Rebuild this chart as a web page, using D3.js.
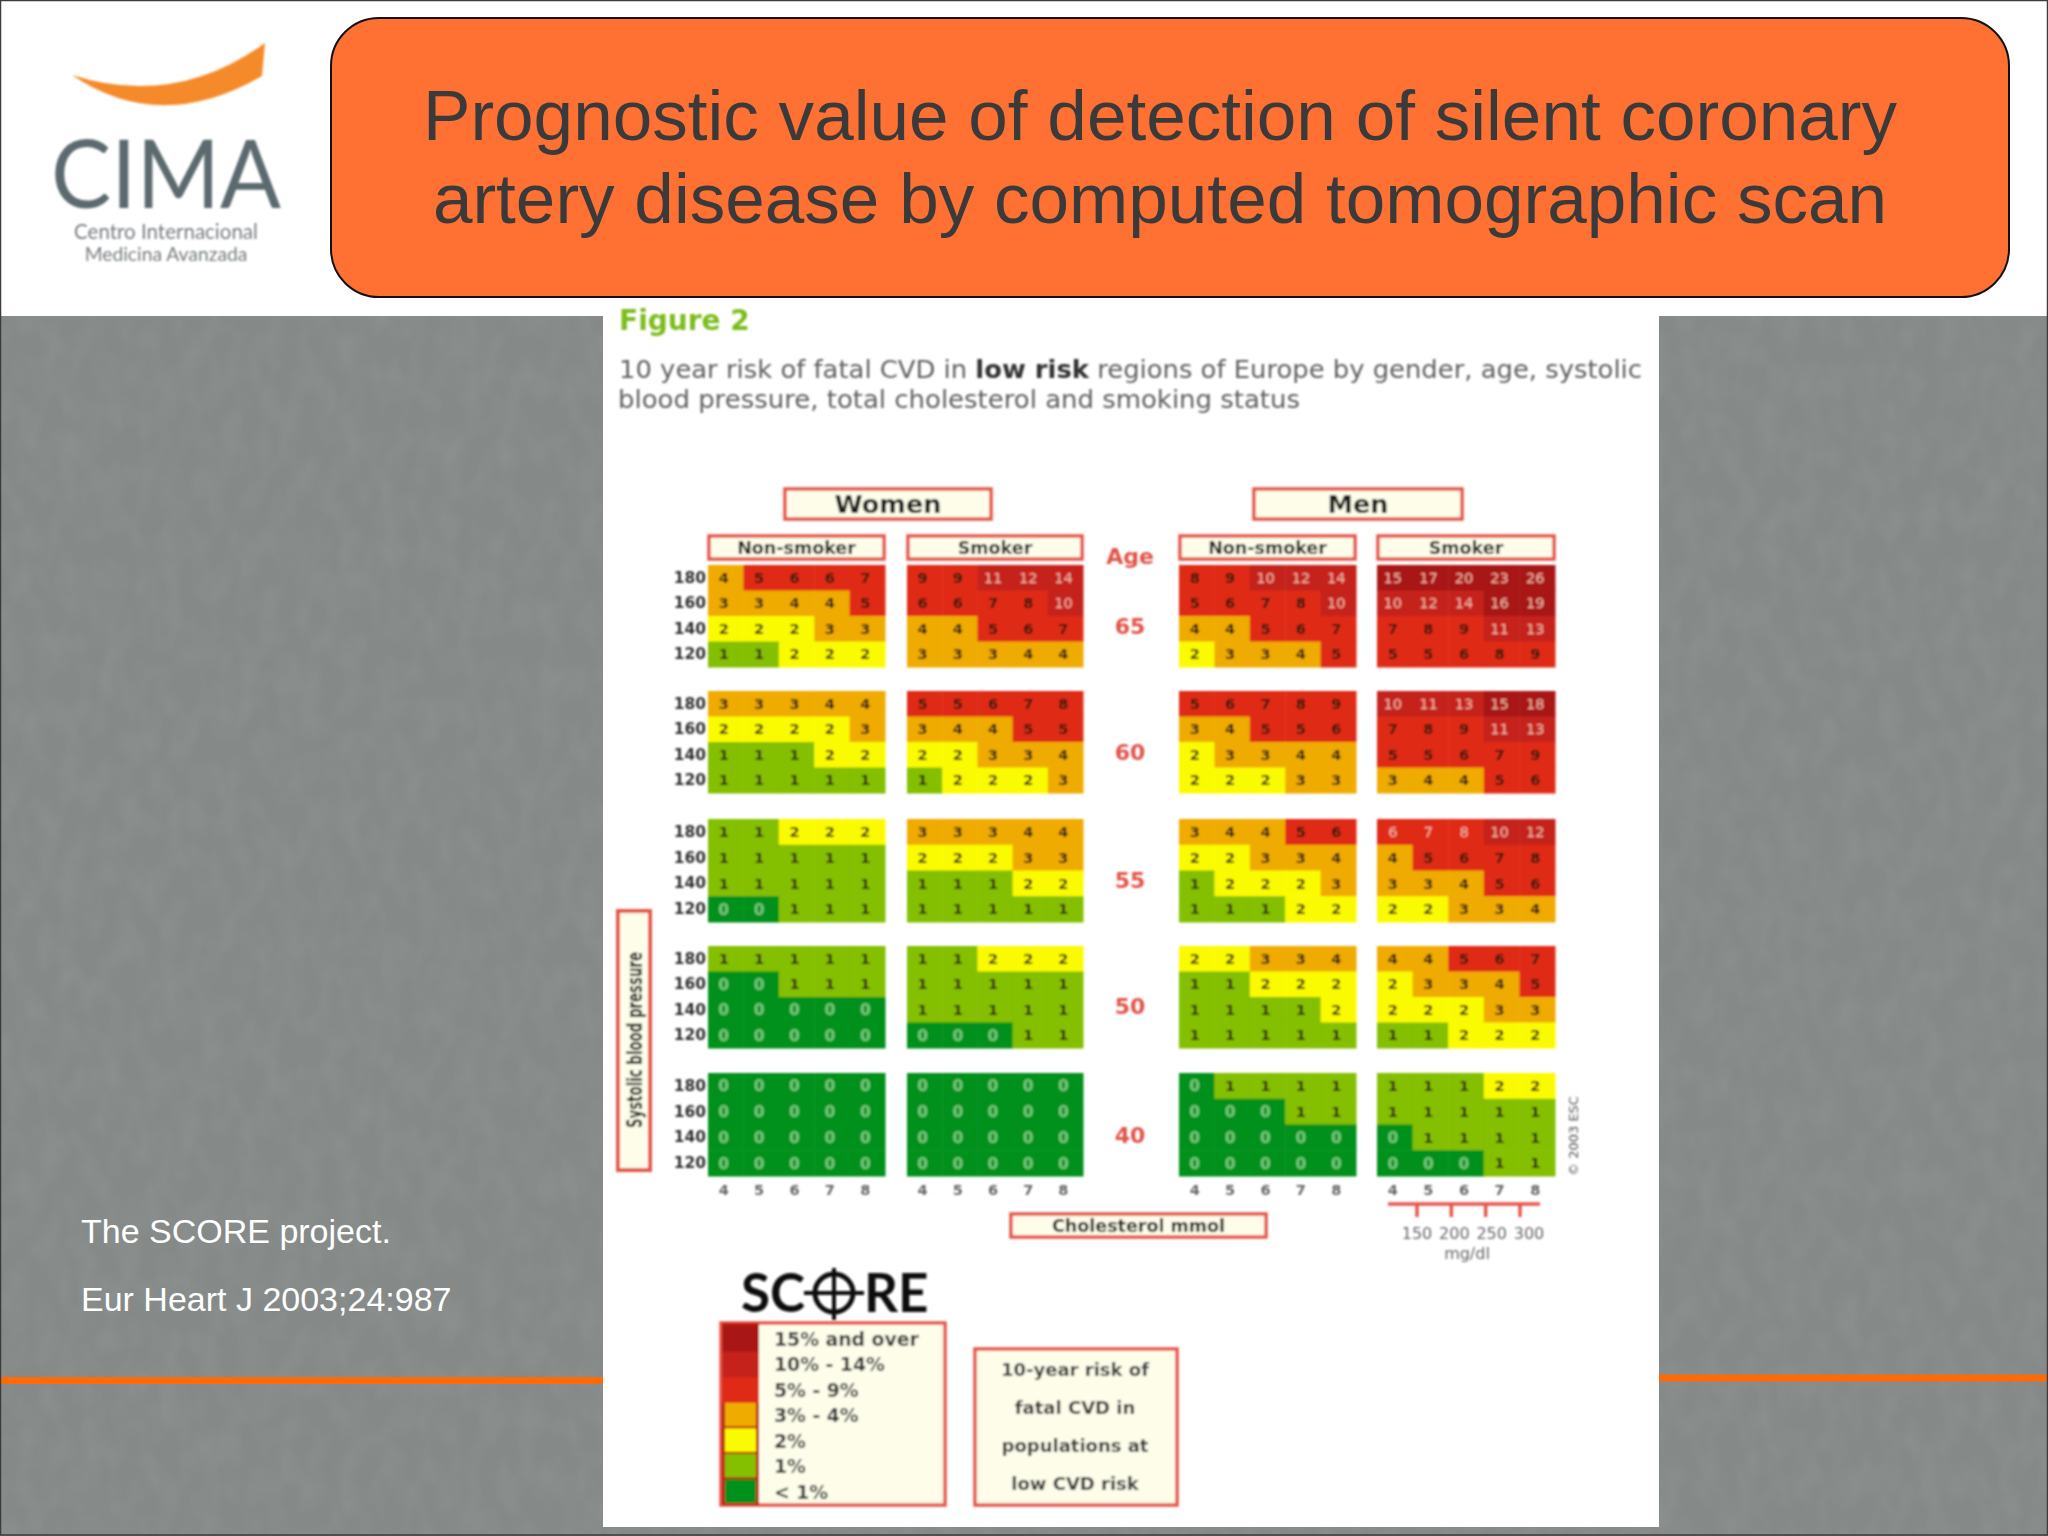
<!DOCTYPE html>
<html><head><meta charset="utf-8">
<script src="https://cdn.jsdelivr.net/npm/d3@7/dist/d3.min.js"></script>
<style>html,body{margin:0;padding:0;background:#fff}svg{display:block}</style>
</head><body><svg id="c" width="2048" height="1536" viewBox="0 0 2048 1536"></svg>
<script>
const ages = [65, 60, 55, 50, 40];
const systolic = [180, 160, 140, 120];
const cholesterol = [4, 5, 6, 7, 8];
const mgdlTicks = [150, 200, 250, 300];
const legendLabels = ["15% and over", "10% - 14%", "5% - 9%", "3% - 4%", "2%", "1%", "< 1%"];
const legendValues = [15, 10, 5, 3, 2, 1, 0];
const riskThresholds = [1, 2, 3, 5, 10, 15];
const riskColours = ["#00901f", "#84bf00", "#fbfb00", "#efab00", "#df2a15", "#c5201b", "#a91513"];
const noteLines = ["10-year risk of", "fatal CVD in", "populations at", "low CVD risk"];

const womenNonSmoker = [
 [[4,5,6,6,7],[3,3,4,4,5],[2,2,2,3,3],[1,1,2,2,2]],
 [[3,3,3,4,4],[2,2,2,2,3],[1,1,1,2,2],[1,1,1,1,1]],
 [[1,1,2,2,2],[1,1,1,1,1],[1,1,1,1,1],[0,0,1,1,1]],
 [[1,1,1,1,1],[0,0,1,1,1],[0,0,0,0,0],[0,0,0,0,0]],
 [[0,0,0,0,0],[0,0,0,0,0],[0,0,0,0,0],[0,0,0,0,0]]];
const womenSmoker = [
 [[9,9,11,12,14],[6,6,7,8,10],[4,4,5,6,7],[3,3,3,4,4]],
 [[5,5,6,7,8],[3,4,4,5,5],[2,2,3,3,4],[1,2,2,2,3]],
 [[3,3,3,4,4],[2,2,2,3,3],[1,1,1,2,2],[1,1,1,1,1]],
 [[1,1,2,2,2],[1,1,1,1,1],[1,1,1,1,1],[0,0,0,1,1]],
 [[0,0,0,0,0],[0,0,0,0,0],[0,0,0,0,0],[0,0,0,0,0]]];
const menNonSmoker = [
 [[8,9,10,12,14],[5,6,7,8,10],[4,4,5,6,7],[2,3,3,4,5]],
 [[5,6,7,8,9],[3,4,5,5,6],[2,3,3,4,4],[2,2,2,3,3]],
 [[3,4,4,5,6],[2,2,3,3,4],[1,2,2,2,3],[1,1,1,2,2]],
 [[2,2,3,3,4],[1,1,2,2,2],[1,1,1,1,2],[1,1,1,1,1]],
 [[0,1,1,1,1],[0,0,0,1,1],[0,0,0,0,0],[0,0,0,0,0]]];
const menSmoker = [
 [[15,17,20,23,26],[10,12,14,16,19],[7,8,9,11,13],[5,5,6,8,9]],
 [[10,11,13,15,18],[7,8,9,11,13],[5,5,6,7,9],[3,4,4,5,6]],
 [[6,7,8,10,12],[4,5,6,7,8],[3,3,4,5,6],[2,2,3,3,4]],
 [[4,4,5,6,7],[2,3,3,4,5],[2,2,2,3,3],[1,1,2,2,2]],
 [[1,1,1,2,2],[1,1,1,1,1],[0,1,1,1,1],[0,0,0,1,1]]];

const panels = [
 {name:"Non-smoker", data:womenNonSmoker, x0:708, x1:885},
 {name:"Smoker",     data:womenSmoker,    x0:907, x1:1083},
 {name:"Non-smoker", data:menNonSmoker,   x0:1179,x1:1356},
 {name:"Smoker",     data:menSmoker,      x0:1377,x1:1555}];
const ageBands = [[565,667],[691,793],[819,922],[946,1048],[1073,1176]];
const ageLabelY = [626,752,880,1006,1135];

const RED="#e5564c", CREAM="#fdfdea", DJ="'DejaVu Sans',sans-serif", LS="'Liberation Sans',Arial,sans-serif";
const svg = d3.select("#c");
const defs = svg.append("defs");
const blur=(id,s)=>defs.append("filter").attr("id",id).attr("filterUnits","userSpaceOnUse")
  .attr("x",0).attr("y",0).attr("width",2048).attr("height",1536)
  .append("feGaussianBlur").attr("stdDeviation",s);
blur("soft",1.15); blur("softer",0.9);
const tex=defs.append("filter").attr("id","mottle").attr("filterUnits","userSpaceOnUse")
  .attr("x",0).attr("y",316).attr("width",2048).attr("height",1220);
tex.append("feTurbulence").attr("type","fractalNoise").attr("baseFrequency","0.05 0.03").attr("numOctaves",2).attr("seed",7);
tex.append("feColorMatrix").attr("values","0 0 0 0 0.50  0 0 0 0 0.56  0 0 0 0 0.56  1.2 0 0 0 -0.42");

// slide background
svg.append("rect").attr("width",2048).attr("height",1536).attr("fill","#ffffff");
svg.append("rect").attr("y",316).attr("width",2048).attr("height",1220).attr("fill","#858988");
svg.append("rect").attr("y",316).attr("width",2048).attr("height",1220).attr("fill","#8b8f90").attr("filter","url(#mottle)").attr("opacity",.18);
svg.append("rect").attr("x",0).attr("y",1377).attr("width",603).attr("height",7).attr("fill","#ff6a08");
svg.append("rect").attr("x",1659).attr("y",1374.5).attr("width",389).attr("height",7).attr("fill","#ff6a08");
svg.append("rect").attr("x",.5).attr("y",.5).attr("width",2047).attr("height",1534.5).attr("fill","none").attr("stroke","#3c3c3c").attr("stroke-width",1.5);
svg.append("rect").attr("x",603).attr("y",316).attr("width",1056).attr("height",1211).attr("fill","#fff");

// logo
const logo=svg.append("g").attr("filter","url(#softer)");
const sw=d3.path(); sw.moveTo(72,75); sw.quadraticCurveTo(175,108,265,43); sw.lineTo(262,76); sw.quadraticCurveTo(160,135,72,75); sw.closePath();
logo.append("path").attr("d",sw.toString()).attr("fill","#f58a2a");
logo.append("text").attr("x",166).attr("y",208).attr("text-anchor","middle").attr("font-family","Lato,sans-serif").attr("font-weight",400)
  .attr("font-size",95).attr("textLength",230).attr("lengthAdjust","spacingAndGlyphs").attr("fill","#5c6a70").text("CIMA");
[["Centro Internacional",239,20.5],["Medicina Avanzada",261,19.3]].forEach(([t,y,fs])=>logo.append("text").attr("x",166).attr("y",y)
  .attr("text-anchor","middle").attr("font-family","Lato,sans-serif").attr("font-size",fs).attr("fill","#777d80").text(t));

// title
svg.append("rect").attr("x",331).attr("y",18).attr("width",1678).attr("height",279).attr("rx",48).attr("ry",48)
  .attr("fill","#ff7033").attr("stroke","#111").attr("stroke-width",2);
[["Prognostic value of detection of silent coronary",140],["artery disease by computed tomographic scan",223]].forEach(([t,y])=>
  svg.append("text").attr("x",1160).attr("y",y).attr("text-anchor","middle").attr("font-family",LS).attr("font-size",71.1).attr("fill","#3a3a3a").text(t));

// left citation
[["The SCORE project.",1243],["Eur Heart J 2003;24:987",1311]].forEach(([t,y])=>
  svg.append("text").attr("x",81).attr("y",y).attr("font-family",LS).attr("font-size",34).attr("fill","#fff").text(t));

// figure
const fig=svg.append("g").attr("filter","url(#soft)");
fig.append("text").attr("x",619).attr("y",330).attr("font-family",DJ).attr("font-weight",700).attr("font-size",28).attr("fill","#7cbc1e").text("Figure 2");
const l1=fig.append("text").attr("x",619).attr("y",378).attr("font-family",DJ).attr("font-size",25).attr("fill","#606060")
  .attr("textLength",1023).attr("lengthAdjust","spacingAndGlyphs");
l1.append("tspan").text("10 year risk of fatal CVD in ");
l1.append("tspan").attr("font-weight",700).attr("fill","#333").text("low risk");
l1.append("tspan").text(" regions of Europe by gender, age, systolic");
fig.append("text").attr("x",618).attr("y",408).attr("font-family",DJ).attr("font-size",25).attr("fill","#606060")
  .attr("textLength",682).attr("lengthAdjust","spacingAndGlyphs").text("blood pressure, total cholesterol and smoking status");

function box(x,y,w,h,t,fs,bw){
  fig.append("rect").attr("x",x).attr("y",y).attr("width",w).attr("height",h).attr("fill",CREAM).attr("stroke",RED).attr("stroke-width",bw||3.5);
  if(t) fig.append("text").attr("x",x+w/2).attr("y",y+h/2).attr("dy","0.36em").attr("text-anchor","middle")
    .attr("font-family",DJ).attr("font-weight",700).attr("font-size",fs).attr("fill","#1c1c1c").text(t);
}
box(785,489,206,30,"Women",25.5);
box(1254,489,208,30,"Men",25.5);
panels.forEach(p=>box(p.x0+1,536,p.x1-p.x0-2,23,p.name,17.5));
box(1011,1214,255,23,"Cholesterol mmol",17.5);

// Age labels
const ageStyle=s=>s.attr("text-anchor","middle").attr("font-family",DJ).attr("font-weight",700).attr("fill","#e0524a");
fig.append("text").attr("x",1130).attr("y",556).attr("dy","0.36em").attr("font-size",22).call(ageStyle).text("Age");
ages.forEach((a,i)=>fig.append("text").attr("x",1130).attr("y",ageLabelY[i]).attr("dy","0.36em").attr("font-size",22).call(ageStyle).text(a));

// risk cells
const colour=d3.scaleThreshold().domain(riskThresholds).range(riskColours);
const isLight=d=>d.v>=10||(d.pi===3&&d.ai===2&&d.si===0);
const numColour=d=>d.v===0?"#74c97c":isLight(d)?"#f2b8a8":"#2c1a0c";
panels.forEach((p,pi)=>{
  const x=d3.scaleBand().domain(cholesterol).range([p.x0,p.x1]);
  ages.forEach((age,ai)=>{
    const y=d3.scaleBand().domain(systolic).range(ageBands[ai]);
    const g=fig.append("g");
    const cells=systolic.flatMap((s,si)=>cholesterol.map((c,ci)=>({s,c,si,ai,pi,v:p.data[ai][si][ci]})));
    g.selectAll("rect").data(cells).join("rect")
      .attr("x",d=>x(d.c)).attr("y",d=>y(d.s)).attr("width",x.bandwidth()+.5).attr("height",y.bandwidth()+.5)
      .attr("fill",d=>colour(d.v));
    g.selectAll("text").data(cells).join("text")
      .attr("x",d=>x(d.c)+x.bandwidth()/2-2).attr("y",d=>y(d.s)+y.bandwidth()/2).attr("dy","0.36em")
      .attr("text-anchor","middle").attr("font-family",DJ)
      .attr("font-weight",d=>isLight(d)?400:700).attr("font-size",d=>d.v===0?15.5:14.5)
      .attr("fill",numColour).text(d=>d.v);
    if(pi===0){
      const ax=d3.axisLeft(y).tickSize(0).tickPadding(2);
      const ag=fig.append("g").attr("transform",`translate(${p.x0},0)`).call(ax);
      ag.select(".domain").remove();
      ag.selectAll("text").attr("font-family",DJ).attr("font-weight",700).attr("font-size",15.5).attr("fill","#333");
    }
  });
  const bx=d3.axisBottom(x).tickSize(0).tickPadding(9);
  const bg=fig.append("g").attr("transform",`translate(-2,${1176})`).call(bx);
  bg.select(".domain").remove();
  bg.selectAll("text").attr("font-family",DJ).attr("font-weight",700).attr("font-size",14.5).attr("fill","#666");
});

// Systolic box
fig.append("rect").attr("x",618).attr("y",911).attr("width",32).attr("height",259).attr("fill",CREAM).attr("stroke",RED).attr("stroke-width",4);
fig.append("text").attr("transform","translate(634,1040) rotate(-90)").attr("dy","0.36em").attr("text-anchor","middle")
  .attr("font-family",DJ).attr("font-weight",700).attr("font-size",21).attr("fill","#111").attr("textLength",176).attr("lengthAdjust","spacingAndGlyphs").text("Systolic blood pressure");

// mg/dl scale
const mg=d3.scaleLinear().domain([150,300]).range([1417,1520]);
fig.append("line").attr("x1",1388).attr("x2",1540).attr("y1",1204).attr("y2",1204).attr("stroke",RED).attr("stroke-width",3.5);
fig.selectAll(".mgtick").data(mgdlTicks).join("line").attr("class","mgtick")
  .attr("x1",d=>mg(d)).attr("x2",d=>mg(d)).attr("y1",1204).attr("y2",1217).attr("stroke",RED).attr("stroke-width",3.5);
const mgLabel=d3.scaleLinear().domain([150,300]).range([1417,1529]);
fig.selectAll(".mglab").data(mgdlTicks).join("text").attr("class","mglab")
  .attr("x",d=>mgLabel(d)).attr("y",1233).attr("dy","0.36em").attr("text-anchor","middle")
  .attr("font-family",DJ).attr("font-size",16).attr("fill","#666").text(d=>d);
fig.append("text").attr("x",1467).attr("y",1253).attr("dy","0.36em").attr("text-anchor","middle").attr("font-family",DJ).attr("font-size",16).attr("fill","#666").text("mg/dl");
fig.append("text").attr("transform","translate(1573,1136) rotate(-90)").attr("dy","0.36em").attr("text-anchor","middle")
  .attr("font-family",DJ).attr("font-size",13).attr("fill","#555").text("© 2003 ESC");

// SCORE wordmark
const sc=s=>s.attr("y",1312).attr("font-family","Lato,sans-serif").attr("font-weight",700).attr("font-size",53).attr("fill","#111");
fig.append("text").attr("x",741).call(sc).text("SC");
fig.append("text").attr("x",864).call(sc).text("RE");
fig.append("circle").attr("cx",834).attr("cy",1293).attr("r",19).attr("fill","none").attr("stroke","#111").attr("stroke-width",5);
fig.append("line").attr("x1",834).attr("x2",834).attr("y1",1268).attr("y2",1320).attr("stroke","#111").attr("stroke-width",4);
fig.append("line").attr("x1",804).attr("x2",864).attr("y1",1293).attr("y2",1293).attr("stroke","#111").attr("stroke-width",4);

// legend
box(721,1323,224,182,null);
fig.append("rect").attr("x",722).attr("y",1323).attr("width",37).attr("height",182).attr("fill","#b81c10");
const ly=d3.scaleBand().domain(legendLabels).range([1326,1505]);
fig.selectAll(".lg").data(legendLabels).join("rect").attr("class","lg")
  .attr("x",(d,i)=>i<3?722:725).attr("width",(d,i)=>i<3?37:31).attr("y",d=>ly(d)).attr("height",(d,i)=>i<3?ly.bandwidth()+.5:ly.bandwidth()-2)
  .attr("fill",(d,i)=>colour(legendValues[i]));
fig.selectAll(".lgt").data(legendLabels).join("text").attr("class","lgt")
  .attr("x",774).attr("y",d=>ly(d)+ly.bandwidth()/2).attr("dy","0.36em")
  .attr("font-family",DJ).attr("font-weight",700).attr("font-size",18.8).attr("fill","#383838").text(d=>d);

// note box
box(975,1349,202,156,null);
const ny=d3.scaleBand().domain(noteLines).range([1350.5,1502.5]);
fig.selectAll(".nt").data(noteLines).join("text").attr("class","nt")
  .attr("x",1075).attr("y",d=>ny(d)+ny.bandwidth()/2).attr("dy","0.36em").attr("text-anchor","middle")
  .attr("font-family",DJ).attr("font-weight",700).attr("font-size",18).attr("fill","#383838").text(d=>d);
</script></body></html>
